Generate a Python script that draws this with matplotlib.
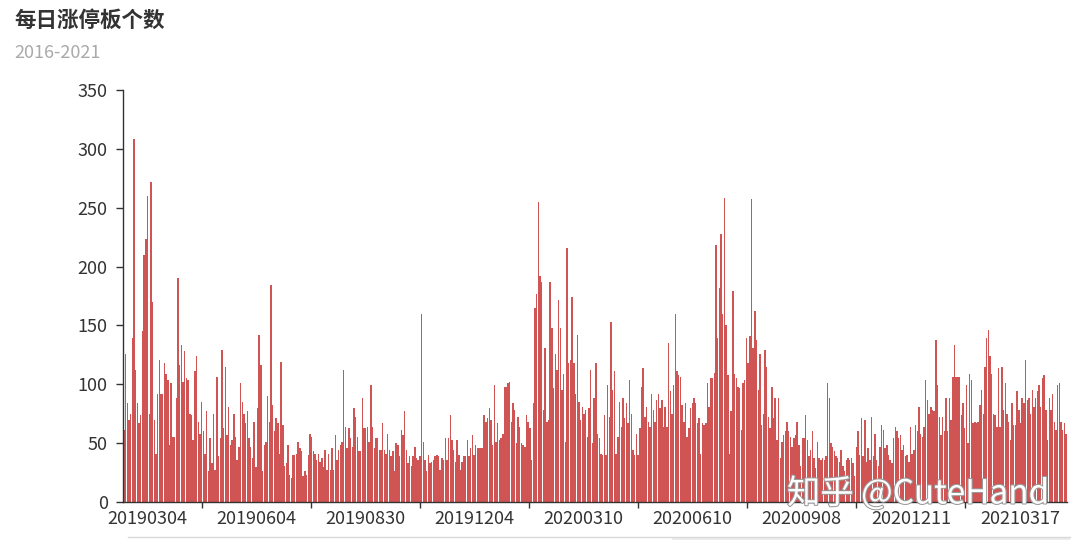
import numpy as np
import matplotlib
matplotlib.use("Agg")
import matplotlib.pyplot as plt
import matplotlib.patheffects as pe
from matplotlib.patches import Rectangle
from matplotlib.lines import Line2D

plt.rcParams['font.family'] = ['Noto Sans CJK SC', 'DejaVu Sans']

# ------------------------------------------------------------------
#   每日涨停板个数 (left to right)
# ------------------------------------------------------------------
zt_2019_h1 = [61, 126, 84, 70, 75, 139, 308, 112, 84, 67, 74, 145, 210, 223, 260, 75, 272, 170, 70, 41,
              92, 121, 92, 92, 118, 109, 104, 48, 101, 55, 55, 88, 190, 116, 133, 102, 128, 105, 104, 75,
              74, 53, 111, 124, 68, 58, 85, 60, 41, 77, 26, 54, 33, 75, 27, 106, 39, 54, 129, 63,
              115, 57, 81, 48, 53, 75, 55, 36, 47, 101, 85, 75, 67, 77, 54, 47, 37, 68, 30]

zt_2019_q3 = [80, 142, 116, 26, 48, 51, 90, 68, 184, 82, 60, 71, 67, 41, 119, 65, 31, 33, 48, 23,
              20, 40, 40, 41, 51, 46, 43, 22, 26, 23, 40, 58, 55, 43, 41, 36, 41, 34, 37, 30,
              44, 27, 41, 27, 46, 27, 57, 36, 44, 48, 51, 112, 64, 46, 63, 54, 47, 80, 72, 55,
              43, 43, 88, 63, 63, 64, 51, 99, 64, 46, 54, 54, 44, 44, 67, 44, 41, 58, 44, 39,
              43, 26, 50, 48, 39, 61, 57, 77]

zt_2019_q4 = [44, 33, 39, 31, 39, 47, 37, 36, 39, 160, 51, 36, 26, 40, 33, 34, 36, 39, 40, 39,
              27, 37, 36, 54, 36, 54, 74, 53, 44, 34, 53, 40, 27, 34, 39, 39, 53, 39, 46, 57,
              40, 48, 46, 46, 46, 46, 74, 68, 71, 80, 70, 48, 99, 51, 67, 53, 54, 58, 98, 98,
              101, 102, 68, 84, 78, 50, 72, 64, 50, 48, 47, 74, 68, 63, 36, 84, 165, 177, 255, 192,
              187, 78, 131, 68, 70, 187, 148, 97]

zt_2020_h1 = [126, 112, 172, 148, 95, 109, 51, 216, 118, 121, 174, 118, 92, 142, 85, 70, 81, 75, 78, 55,
              80, 112, 50, 88, 118, 58, 54, 41, 40, 74, 40, 99, 72, 153, 95, 111, 41, 55, 85, 64,
              88, 71, 84, 67, 104, 75, 44, 40, 58, 40, 63, 98, 114, 72, 81, 68, 64, 92, 78, 68,
              87, 92, 80, 87, 64, 81, 64, 135, 94, 75, 99, 160, 111, 108, 106, 82, 68, 84, 55, 63,
              80, 84, 88, 84, 67, 71, 41, 67, 65]

zt_2020_q3 = [67, 101, 81, 105, 105, 110, 218, 139, 182, 228, 160, 258, 150, 108, 41, 77, 179, 109, 105, 98,
              97, 61, 101, 104, 139, 118, 141, 257, 131, 162, 138, 95, 126, 65, 75, 129, 115, 72, 63, 98,
              71, 88, 53, 88, 37, 51, 57, 60, 68, 60, 55, 47, 54, 57, 68, 48, 31, 54, 54, 74,
              53, 39, 44, 60, 37, 29, 51, 37, 36, 37, 36, 39, 101, 88, 50, 47, 43, 39, 37, 34,
              44, 31, 26, 36, 37, 36, 37, 33, 22, 47]

zt_2020_q4 = [60, 40, 71, 39, 70, 34, 46, 36, 72, 39, 58, 36, 31, 47, 65, 61, 46, 48, 40, 36,
              33, 54, 64, 60, 54, 57, 44, 48, 39, 40, 34, 64, 41, 44, 65, 60, 81, 58, 55, 64,
              104, 87, 75, 81, 78, 77, 138, 99, 72, 57, 72, 60, 88, 60, 88, 70, 106, 133, 106, 106,
              106, 74, 84, 63, 99, 50, 109, 104, 67, 68, 67, 68, 82, 95, 75, 115, 139, 146, 124, 109,
              75, 74, 64, 114, 64, 115, 78, 101, 75, 68, 53, 84, 65, 65, 94, 78]

zt_2021 = [67, 88, 84, 121, 87, 88, 75, 95, 81, 88, 94, 99, 81, 105, 108, 78, 53, 88, 78, 92,
           68, 61, 99, 101, 68, 61, 67, 58]

counts = zt_2019_h1 + zt_2019_q3 + zt_2019_q4 + zt_2020_h1 + zt_2020_q3 + zt_2020_q4 + zt_2021

# x-axis labels (every 62nd trading day) and where they sit on the category axis
tick_labels = ['20190304', '20190604', '20190830', '20191204', '20200310',
               '20200610', '20200908', '20201211', '20210317']
first_label_pos = 14.0
last_label_pos = 529.7

BAR_COLOR = '#d05454'
AXIS_COLOR = '#333333'

# ==================================================================
W, H = 1080, 540
fig = plt.figure(figsize=(W / 100, H / 100), dpi=100)
fig.patch.set_facecolor('white')

ax_l, ax_r, ax_t, ax_b = 123, 1067, 90, 502
ax = fig.add_axes([ax_l / W, 1 - ax_b / H, (ax_r - ax_l) / W, (ax_b - ax_t) / H])

n = len(counts)
x = np.arange(n)
ax.bar(x, counts, width=0.85, color=BAR_COLOR, linewidth=0)

ax.set_xlim(-0.5, n - 0.5)
ax.set_ylim(0, 350)

# spines
for s in ['top', 'right']:
    ax.spines[s].set_visible(False)
for s in ['left', 'bottom']:
    ax.spines[s].set_color(AXIS_COLOR)
    ax.spines[s].set_linewidth(1)

# y axis
ax.set_yticks(np.arange(0, 351, 50))
ax.tick_params(axis='y', direction='out', length=5, width=1, color=AXIS_COLOR,
               labelcolor=AXIS_COLOR, labelsize=13, pad=6)

# x axis: labels on minor ticks (no mark), marks on major ticks between labels
label_pos = np.linspace(first_label_pos, last_label_pos, len(tick_labels))
tick_pos = (label_pos[:-1] + label_pos[1:]) / 2
ax.set_xticks(tick_pos)
ax.set_xticklabels([])
ax.set_xticks(label_pos, minor=True)
ax.set_xticklabels(tick_labels, minor=True)
ax.tick_params(axis='x', which='major', direction='out', length=4, width=1, color=AXIS_COLOR)
ax.tick_params(axis='x', which='minor', length=0, labelcolor=AXIS_COLOR, labelsize=13, pad=6)

# titles
fig.text(14 / W, 1 - 20 / H, '每日涨停板个数', fontsize=15.5, fontweight='bold',
         color='#333333', va='center', ha='left')
fig.text(14 / W, 1 - 53 / H, '2016-2021', fontsize=13, color='#aaaaaa', va='center', ha='left')

# watermark
fig.text(787 / W, 1 - 494 / H, '知乎 @CuteHand', fontsize=24, color='white', va='center', ha='left',
         path_effects=[pe.withStroke(linewidth=1.5, foreground='#999999')])

# dataZoom slider edge at the very bottom
fig.add_artist(Rectangle((672 / W, 0), (1070 - 672) / W, 3 / H, transform=fig.transFigure,
                         facecolor='#ececec', edgecolor='none'))
fig.add_artist(Line2D([128 / W, 1070 / W], [1 - 537 / H, 1 - 537 / H], transform=fig.transFigure,
                      color='#d9d9d9', linewidth=1))

fig.savefig('out.png', dpi=100)
